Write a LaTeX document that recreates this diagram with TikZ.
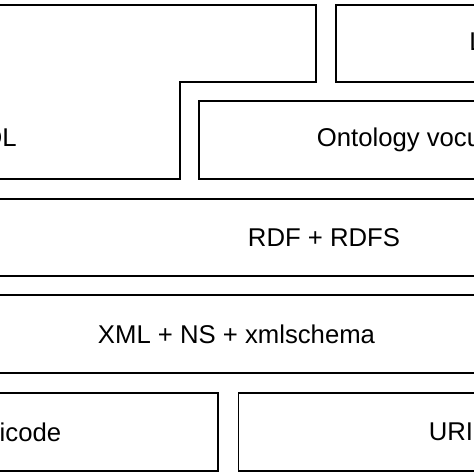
\documentclass[tikz,border=0pt]{standalone}
\usepackage{fontspec}
\setmainfont{Liberation Sans}

\begin{document}
\begin{tikzpicture}[x=1pt,y=-1pt,
  layer/.style={draw,line width=1.7pt,rectangle,inner sep=0pt,
                font=\fontsize{25.7}{30}\selectfont},
  tag/.style={inner sep=0pt,font=\fontsize{25.7}{30}\selectfont}]
\useasboundingbox (0,0) rectangle (474,474);
\clip (0,0) rectangle (474,474);

% top row
\draw[line width=1.7pt] (-189,5) -- (316,5) -- (316,82) -- (180,82)
  -- (180,179) -- (-189,179) -- cycle;
\node[tag] (sparql) at (-34.5,140) {SPARQL};
\node[layer,minimum width=328,minimum height=77] (logic) at (500,43.5) {Logic};
\node[layer,minimum width=470,minimum height=78] (onto) at (434,140) {Ontology vocubulary};

% middle layers
\node[layer,minimum width=676,minimum height=77] (rdf) at (324,237.5) {RDF + RDFS};
\node[layer,minimum width=851,minimum height=78] (xml) at (236.5,334) {XML + NS + xmlschema};

% bottom row
\node[layer,minimum width=408,minimum height=78] (unicode) at (14,432) {Unicode};
\node[layer,minimum width=425,minimum height=78] (uri) at (451,432) {URI};
\end{tikzpicture}
\end{document}
